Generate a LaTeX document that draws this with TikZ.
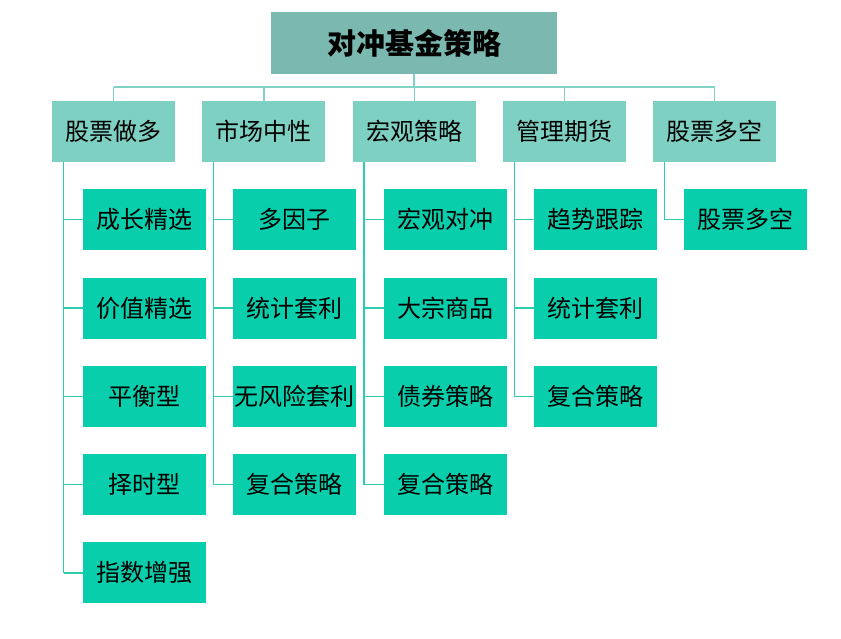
\documentclass[tikz,border=0pt]{standalone}
\usepackage{fontspec}
\newfontfamily\cjk{Noto Sans CJK SC}
\definecolor{rootc}{HTML}{7AB8B0}
\definecolor{lonec}{HTML}{7DD0C2}
\definecolor{ltwoc}{HTML}{09CEAB}
\definecolor{linea}{HTML}{80D2C6}
\definecolor{lineb}{HTML}{2ECDB0}
\begin{document}
\begin{tikzpicture}[x=1pt,y=-1pt,
  rootbox/.style={fill=rootc,minimum width=286pt,minimum height=62pt,inner sep=0pt,
    font=\cjk\bfseries\fontsize{29}{31}\selectfont,text=black},
  onebox/.style={fill=lonec,minimum width=123pt,minimum height=61pt,inner sep=0pt,
    font=\cjk\fontsize{24}{26}\selectfont,text=black,anchor=north west},
  twobox/.style={fill=ltwoc,minimum width=123pt,minimum height=61pt,inner sep=0pt,
    font=\cjk\fontsize{24}{26}\selectfont,text=black,anchor=north west},
  topline/.style={draw=linea,line width=1.3pt},
  subline/.style={draw=lineb,line width=1.2pt}]
\useasboundingbox (0,0) rectangle (841,638);
\node[rootbox] (root) at (414,43) {对冲基金策略};
\coordinate (bar) at (414,87);
% level one
\foreach \i/\t in {0/股票做多,1/市场中性,2/宏观策略,3/管理期货,4/股票多空}{
  \node[onebox] (a\i) at ({52+150.25*\i},101) {\t};
  \coordinate (v\i) at ({52+150.25*\i+11.5},162);
}
\draw[topline] (root.south) -- (bar);
\draw[topline] (a0.north |- bar) -- (a4.north |- bar);
\foreach \i in {0,...,4}{ \draw[topline] (a\i.north |- bar) -- (a\i.north); }
% level two
\foreach \i/\list in {0/{成长精选,价值精选,平衡型,择时型,指数增强},
                      1/{多因子,统计套利,无风险套利,复合策略},
                      2/{宏观对冲,大宗商品,债券策略,复合策略},
                      3/{趋势跟踪,统计套利,复合策略},
                      4/{股票多空}}{
  \foreach \t [count=\k] in \list {
    \node[twobox] (b\i\k) at ({52+150.25*\i+31},{189+88.3*(\k-1)}) {\t};
    \draw[subline] (v\i |- b\i\k.west) -- (b\i\k.west);
    \xdef\last{\k}
  }
  \draw[subline] (v\i) -- (v\i |- b\i\last.west);
}
\end{tikzpicture}
\end{document}
